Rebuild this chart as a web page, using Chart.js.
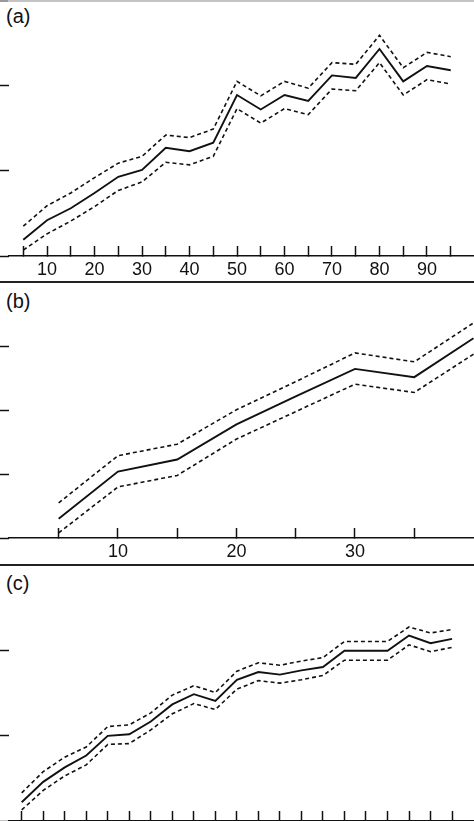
<!DOCTYPE html>
<html>
<head>
    <script src="https://cdn.jsdelivr.net/npm/chart.js"></script>
    <style>
        body { margin: 0; width: 474px; height: 821px; overflow: hidden; background: #fff; position: relative;
               font-family: "Liberation Sans", Arial, sans-serif; }
        .panel { position: absolute; left: 0; width: 474px; }
        .tag { position: absolute; left: 6px; font-size: 20px; line-height: 20px; color: #111; }
        .rule { position: absolute; left: 0; width: 474px; height: 2px; background: #222; }
    </style>
</head>
<body>
<div style="position:absolute;left:0;top:0;width:474px;height:2px;background:#c4c4c4"></div>
<div style="position:absolute;left:0;top:0;width:8px;height:2px;background:#999"></div>

<div class="tag" style="top:6px">(a)</div>
<div class="panel" style="top:3px;height:277px"><canvas id="chartA"></canvas></div>
<div class="rule" style="top:281px"></div>

<div class="tag" style="top:291px">(b)</div>
<div class="panel" style="top:285px;height:277px"><canvas id="chartB"></canvas></div>
<div class="rule" style="top:564px"></div>

<div class="tag" style="top:573px">(c)</div>
<div class="panel" style="top:567px;height:278px"><canvas id="chartC"></canvas></div>

<script>
    // panel (a)
    var xA = [5, 10, 15, 20, 25, 30, 35, 40, 45, 50, 55, 60, 65, 70, 75, 80, 85, 90, 95];
    var midA = [0.19, 0.42, 0.56, 0.74, 0.93, 1.01, 1.27, 1.23, 1.33, 1.89, 1.72, 1.89, 1.82, 2.12, 2.09, 2.43, 2.05, 2.23, 2.18];
    var upA = [0.35, 0.59, 0.74, 0.92, 1.09, 1.17, 1.42, 1.39, 1.49, 2.05, 1.88, 2.05, 1.97, 2.27, 2.25, 2.59, 2.21, 2.39, 2.34];
    var lowA = [0.07, 0.26, 0.41, 0.58, 0.77, 0.87, 1.10, 1.07, 1.17, 1.73, 1.56, 1.73, 1.66, 1.96, 1.94, 2.27, 1.89, 2.07, 2.02];
    var xTicksA = [5, 10, 15, 20, 25, 30, 35, 40, 45, 50, 55, 60, 65, 70, 75, 80, 85, 90, 95];
    var xLabelsA = [10, 20, 30, 40, 50, 60, 70, 80, 90];
    var yTicksA = [0, 1, 2];

    // panel (b)
    var xB = [5, 10, 15, 20, 25, 30, 35, 40];
    var midB = [0.30, 1.04, 1.23, 1.78, 2.22, 2.65, 2.52, 3.13];
    var upB = [0.55, 1.29, 1.47, 2.01, 2.45, 2.90, 2.76, 3.37];
    var lowB = [0.08, 0.80, 0.98, 1.55, 1.98, 2.41, 2.28, 2.88];
    var xTicksB = [5, 10, 15, 20, 25, 30, 35];
    var xLabelsB = [10, 20, 30];
    var yTicksB = [0, 1, 2, 3];

    // panel (c)
    var xC = [1, 2, 3, 4, 5, 6, 7, 8, 9, 10, 11, 12, 13, 14, 15, 16, 17, 18, 19, 20, 21];
    var midC = [0.22, 0.46, 0.63, 0.77, 1.00, 1.02, 1.17, 1.37, 1.49, 1.41, 1.66, 1.75, 1.72, 1.77, 1.81, 2.00, 2.00, 2.00, 2.18, 2.09, 2.14];
    var upC = [0.33, 0.58, 0.75, 0.87, 1.11, 1.13, 1.27, 1.48, 1.59, 1.51, 1.76, 1.86, 1.83, 1.88, 1.92, 2.11, 2.11, 2.11, 2.28, 2.21, 2.25];
    var lowC = [0.13, 0.36, 0.53, 0.66, 0.90, 0.91, 1.07, 1.26, 1.38, 1.31, 1.55, 1.65, 1.62, 1.66, 1.71, 1.89, 1.89, 1.89, 2.07, 1.99, 2.04];
    var xTicksC = [1, 2, 3, 4, 5, 6, 7, 8, 9, 10, 11, 12, 13, 14, 15, 16, 17, 18, 19, 20, 21];
    var xLabelsC = [];
    var yTicksC = [0, 1, 2];

    function pts(xs, ys) {
        return xs.map(function (x, i) { return {x: x, y: ys[i]}; });
    }

    function line(points, dashed) {
        return {
            data: points,
            borderColor: '#111',
            borderWidth: dashed ? 1.6 : 1.9,
            borderDash: dashed ? [4, 3] : [],
            pointRadius: 0,
            tension: 0,
            fill: false
        };
    }

    function makeChart(id, xs, mid, up, low, xRange, yRange, xTicks, xLabels, yTicks) {
        return new Chart(document.getElementById(id).getContext('2d'), {
            type: 'line',
            data: {
                datasets: [line(pts(xs, up), true), line(pts(xs, mid), false), line(pts(xs, low), true)]
            },
            options: {
                responsive: true,
                maintainAspectRatio: false,
                animation: false,
                events: [],
                layout: {padding: 0},
                plugins: {legend: {display: false}, tooltip: {enabled: false}},
                scales: {
                    x: {
                        type: 'linear',
                        min: xRange[0],
                        max: xRange[1],
                        afterBuildTicks: function (scale) {
                            scale.ticks = xTicks.map(function (v) { return {value: v}; });
                        },
                        // ticks point up into the plot, so the axis only needs room for the labels
                        afterFit: function (scale) { scale.height = 24; },
                        ticks: {
                            autoSkip: false,
                            maxRotation: 0,
                            padding: 13,
                            color: '#111',
                            font: {family: 'Liberation Sans', size: 18},
                            callback: function (v) { return xLabels.indexOf(v) >= 0 ? String(v) : ''; }
                        },
                        grid: {drawOnChartArea: false, tickLength: -10, tickWidth: 1.5, tickColor: '#111'},
                        border: {display: true, color: '#111', width: 1.6}
                    },
                    y: {
                        min: yRange[0],
                        max: yRange[1],
                        afterBuildTicks: function (scale) {
                            scale.ticks = yTicks.map(function (v) { return {value: v}; });
                        },
                        ticks: {display: false},
                        grid: {drawOnChartArea: false, tickLength: 9, tickWidth: 1.5, tickColor: '#111'},
                        border: {display: false}
                    }
                }
            }
        });
    }

    makeChart('chartA', xA, midA, upA, lowA, [1.99, 99.9], [0, 2.97], xTicksA, xLabelsA, yTicksA);
    makeChart('chartB', xB, midB, upB, lowB, [0.81, 40.04], [0, 3.964], xTicksB, xLabelsB, yTicksB);
    makeChart('chartC', xC, midC, upC, lowC, [0.41, 22.02], [0, 2.985], xTicksC, xLabelsC, yTicksC);
</script>
</body>
</html>
